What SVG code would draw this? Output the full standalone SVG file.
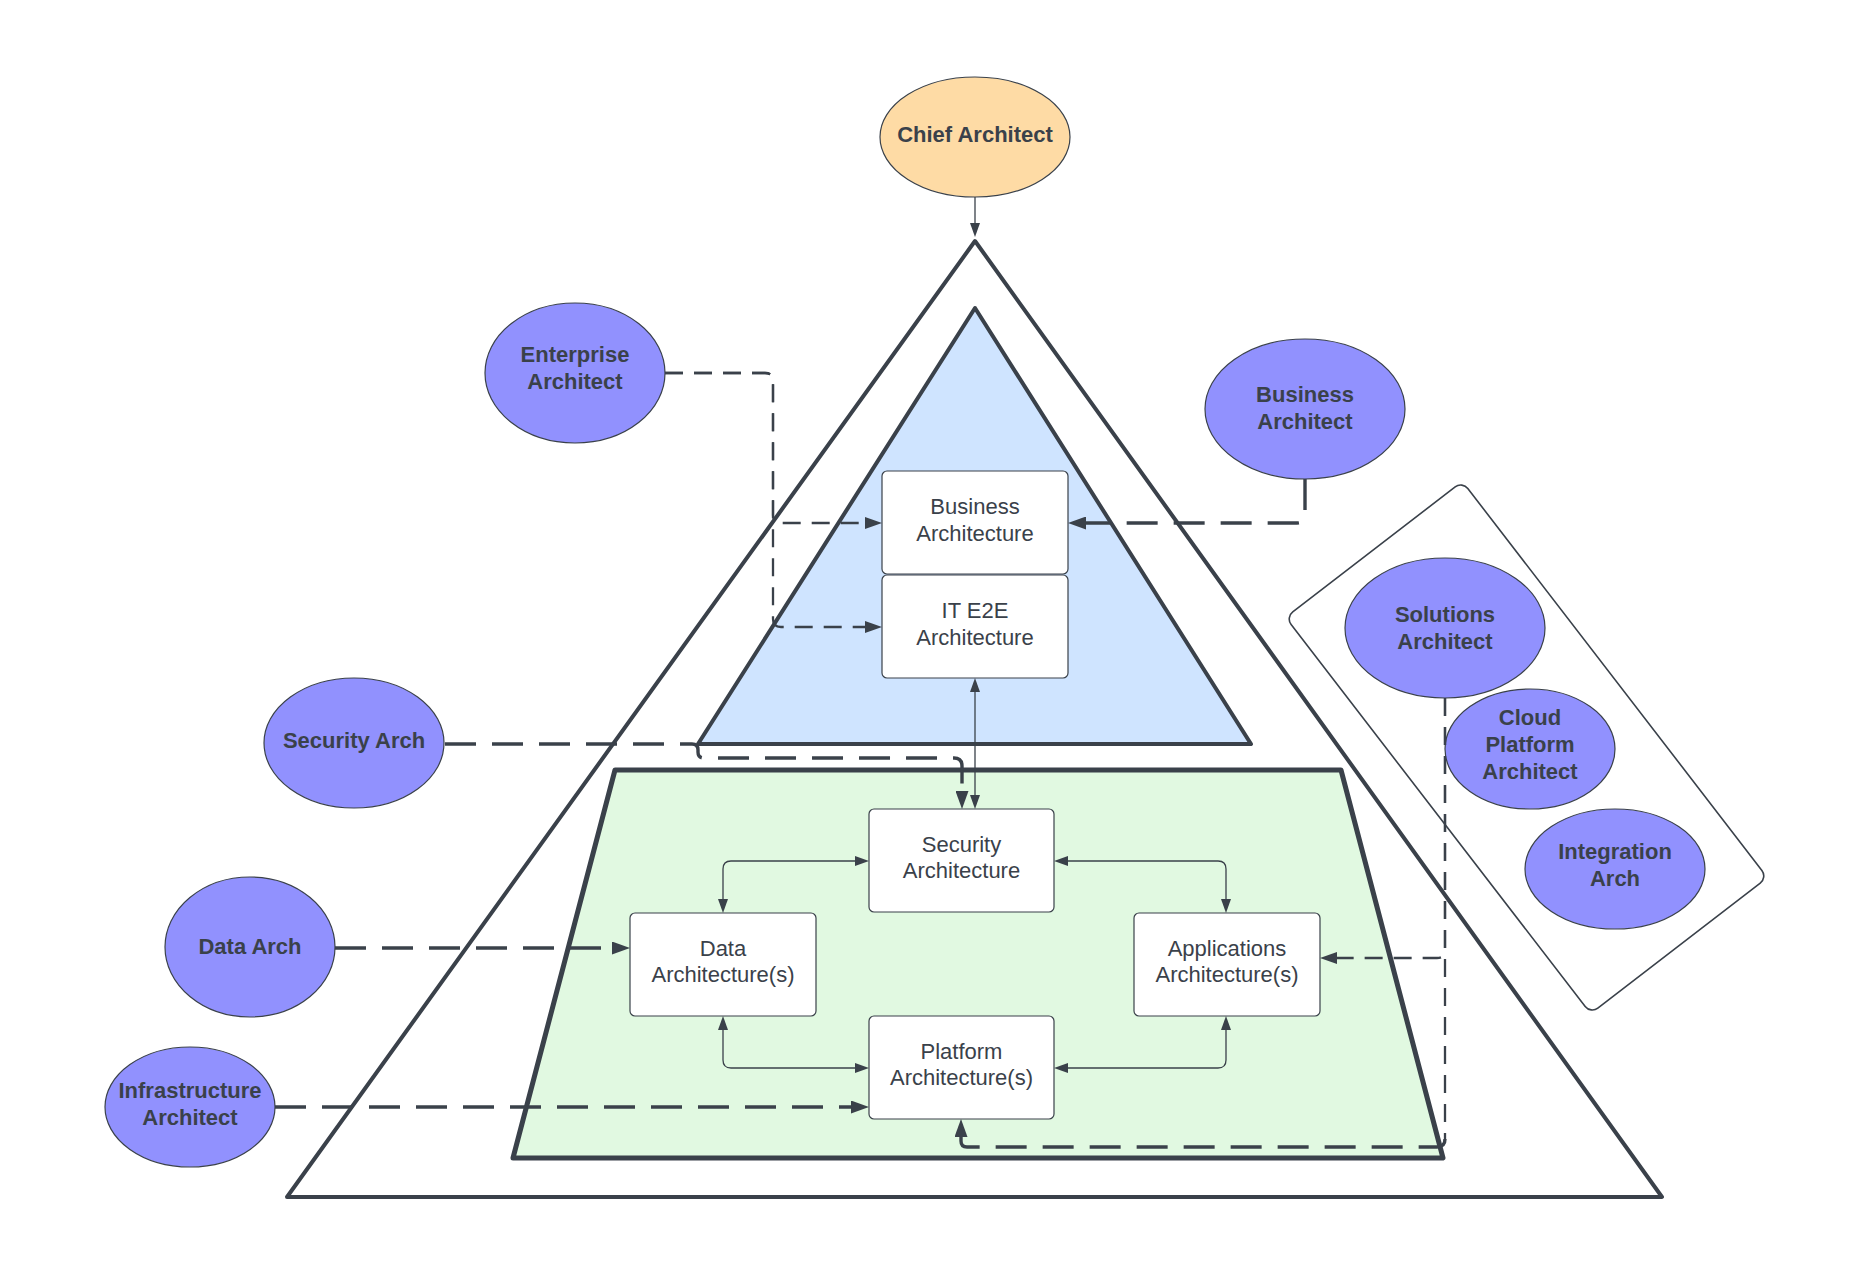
<svg xmlns="http://www.w3.org/2000/svg" width="1876" height="1276" viewBox="0 0 1876 1276">
<style>
  .tier { stroke:#3a414a; stroke-linejoin:round; }
  .ell { stroke:#3a414a; stroke-width:1.2; fill:#9191fe; }
  .box { fill:#ffffff; stroke:#3a414a; stroke-width:1.2; }
  .bt { font-family:"Liberation Sans", Arial, sans-serif; font-weight:bold; font-size:22px; fill:#3a414a; text-anchor:middle; }
  .nt { font-family:"Liberation Sans", Arial, sans-serif; font-size:22px; fill:#3a414a; text-anchor:middle; }
  .thin { fill:none; stroke:#3a414a; stroke-width:1.3; }
  .dm { fill:none; stroke:#3a414a; stroke-width:2.3; stroke-dasharray:18 11; }
  .dl { fill:none; stroke:#3a414a; stroke-width:3.4; stroke-dasharray:31 16; }
</style>
<defs>
  <marker id="aS" markerUnits="userSpaceOnUse" markerWidth="14" markerHeight="10" refX="0" refY="5" orient="auto-start-reverse">
    <path d="M0,0 L14,5 L0,10 z" fill="#3a414a"/>
  </marker>
  <marker id="aM" markerUnits="userSpaceOnUse" markerWidth="17" markerHeight="12" refX="0" refY="6" orient="auto-start-reverse">
    <path d="M0,0 L17,6 L0,12 z" fill="#3a414a"/>
  </marker>
  <marker id="aL" markerUnits="userSpaceOnUse" markerWidth="18" markerHeight="13" refX="0" refY="6.5" orient="auto-start-reverse">
    <path d="M0,0 L18,6.5 L0,13 z" fill="#3a414a"/>
  </marker>
</defs>
<rect width="1876" height="1276" fill="#ffffff"/>

<g id="outer-tier">
  <polygon class="tier" points="975,241 1662,1197 287,1197" fill="none" stroke-width="4"/>
</g>
<g id="strategy-tier">
  <polygon class="tier" points="975,308 1251,744 698,744" fill="#cfe4ff" stroke-width="4"/>
</g>
<g id="domain-tier">
  <polygon class="tier" points="615,770 1341,770 1443,1158 513,1158" fill="#e1f9e1" stroke-width="5"/>
</g>
<g id="solutions-group">
  <rect x="-250" y="-111.5" width="500" height="223" rx="9" fill="none" stroke="#3a414a" stroke-width="1.6" transform="translate(1526.5,747.5) rotate(52.4)"/>
</g>

<g id="business-architecture">
  <rect class="box" x="882" y="471" width="186" height="103" rx="5"/>
  <text class="nt" x="975" y="514">Business</text>
  <text class="nt" x="975" y="541">Architecture</text>
</g>
<g id="it-e2e-architecture">
  <rect class="box" x="882" y="575" width="186" height="103" rx="5"/>
  <text class="nt" x="975" y="618">IT E2E</text>
  <text class="nt" x="975" y="645">Architecture</text>
</g>
<g id="security-architecture">
  <rect class="box" x="869" y="809" width="185" height="103" rx="5"/>
  <text class="nt" x="961.5" y="852">Security</text>
  <text class="nt" x="961.5" y="878">Architecture</text>
</g>
<g id="data-architecture">
  <rect class="box" x="630" y="913" width="186" height="103" rx="5"/>
  <text class="nt" x="723" y="956">Data</text>
  <text class="nt" x="723" y="982">Architecture(s)</text>
</g>
<g id="applications-architecture">
  <rect class="box" x="1134" y="913" width="186" height="103" rx="5"/>
  <text class="nt" x="1227" y="956">Applications</text>
  <text class="nt" x="1227" y="982">Architecture(s)</text>
</g>
<g id="platform-architecture">
  <rect class="box" x="869" y="1016" width="185" height="103" rx="5"/>
  <text class="nt" x="961.5" y="1059">Platform</text>
  <text class="nt" x="961.5" y="1085">Architecture(s)</text>
</g>

<g id="chief-architect">
  <ellipse cx="975" cy="137" rx="95" ry="60" fill="#fedba5" stroke="#3a414a" stroke-width="1.2"/>
  <text class="bt" x="975" y="142">Chief Architect</text>
</g>
<g id="enterprise-architect">
  <ellipse class="ell" cx="575" cy="373" rx="90" ry="70"/>
  <text class="bt" x="575" y="362">Enterprise</text>
  <text class="bt" x="575" y="389">Architect</text>
</g>
<g id="business-architect">
  <ellipse class="ell" cx="1305" cy="409" rx="100" ry="70"/>
  <text class="bt" x="1305" y="402">Business</text>
  <text class="bt" x="1305" y="429">Architect</text>
</g>
<g id="security-arch">
  <ellipse class="ell" cx="354" cy="743" rx="90" ry="65"/>
  <text class="bt" x="354" y="748">Security Arch</text>
</g>
<g id="data-arch">
  <ellipse class="ell" cx="250" cy="947" rx="85" ry="70"/>
  <text class="bt" x="250" y="954">Data Arch</text>
</g>
<g id="infrastructure-architect">
  <ellipse class="ell" cx="190" cy="1107" rx="85" ry="60"/>
  <text class="bt" x="190" y="1098">Infrastructure</text>
  <text class="bt" x="190" y="1125">Architect</text>
</g>
<g id="solutions-architect">
  <ellipse class="ell" cx="1445" cy="628" rx="100" ry="70"/>
  <text class="bt" x="1445" y="622">Solutions</text>
  <text class="bt" x="1445" y="649">Architect</text>
</g>
<g id="cloud-platform-architect">
  <ellipse class="ell" cx="1530" cy="749" rx="85" ry="60"/>
  <text class="bt" x="1530" y="725">Cloud</text>
  <text class="bt" x="1530" y="752">Platform</text>
  <text class="bt" x="1530" y="779">Architect</text>
</g>
<g id="integration-arch">
  <ellipse class="ell" cx="1615" cy="869" rx="90" ry="60"/>
  <text class="bt" x="1615" y="859">Integration</text>
  <text class="bt" x="1615" y="886">Arch</text>
</g>

<g id="connectors">
  <path class="thin" d="M975,197 V223" marker-end="url(#aS)"/>
  <path class="thin" d="M975,692 V795" marker-start="url(#aS)" marker-end="url(#aS)"/>
  <path class="thin" d="M723,899 V869 Q723,861 731,861 H855" marker-start="url(#aS)" marker-end="url(#aS)"/>
  <path class="thin" d="M1068,861 H1218 Q1226,861 1226,869 V899" marker-start="url(#aS)" marker-end="url(#aS)"/>
  <path class="thin" d="M723,1030 V1060 Q723,1068 731,1068 H855" marker-start="url(#aS)" marker-end="url(#aS)"/>
  <path class="thin" d="M1226,1030 V1060 Q1226,1068 1218,1068 H1068" marker-start="url(#aS)" marker-end="url(#aS)"/>

  <path class="dm" d="M665,373 H765 Q773,373 773,381 V515 Q773,523 781,523 H865" marker-end="url(#aM)"/>
  <path class="dm" d="M665,373 H765 Q773,373 773,381 V619 Q773,627 781,627 H865" marker-end="url(#aM)"/>
  <path class="dl" d="M1305,479 V515 Q1305,523 1297,523 H1086" marker-end="url(#aL)"/>
  <path class="dl" d="M445,744 H692 Q698,744 698,750 V752 Q698,758 704,758 H954 Q962,758 962,766 V791" marker-end="url(#aL)"/>
  <path class="dl" d="M335,948 H612" marker-end="url(#aL)"/>
  <path class="dl" d="M275,1107 H851" marker-end="url(#aL)"/>
  <path class="dm" d="M1445,698 V950 Q1445,958 1437,958 H1337" marker-end="url(#aM)"/>
  <path class="dm" d="M1445,698 V1139"/>
  <path class="dl" d="M1445,1139 Q1445,1147 1437,1147 H967 Q961,1147 961,1141 V1137" stroke-dasharray="0 6 31 16" marker-end="url(#aL)"/>
</g>
</svg>
